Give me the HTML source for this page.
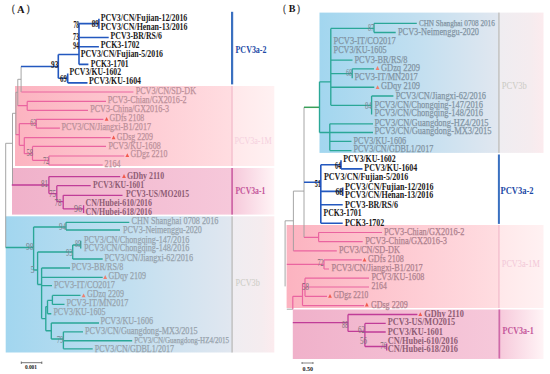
<!DOCTYPE html>
<html><head><meta charset="utf-8"><style>html,body{margin:0;padding:0;background:#fff;}svg{display:block}</style></head>
<body>
<svg width="550" height="374" viewBox="0 0 550 374">
<defs>
<linearGradient id="gPinkL" x1="0" x2="1" y1="0" y2="0"><stop offset="0" stop-color="#fcb3c0"/><stop offset="1" stop-color="#ffdde1"/></linearGradient>
<linearGradient id="gPinkR" x1="0" x2="1" y1="0" y2="0"><stop offset="0" stop-color="#ffe8ea"/><stop offset="1" stop-color="#fff1f2"/></linearGradient>
<linearGradient id="gMagL" x1="0" x2="1" y1="0" y2="0"><stop offset="0" stop-color="#f0b1ca"/><stop offset="1" stop-color="#f6c8da"/></linearGradient>
<linearGradient id="gMagR" x1="0" x2="1" y1="0" y2="0"><stop offset="0" stop-color="#f6c8da"/><stop offset="1" stop-color="#fff4f6"/></linearGradient>
<linearGradient id="gBlueL" x1="0" x2="1" y1="0" y2="0"><stop offset="0" stop-color="#a2d6ef"/><stop offset="0.55" stop-color="#c2dff0"/><stop offset="1" stop-color="#e1e7f0"/></linearGradient>
<linearGradient id="gBlueR" x1="0" x2="1" y1="0" y2="0"><stop offset="0" stop-color="#efedf1"/><stop offset="0.7" stop-color="#f5ecef"/><stop offset="1" stop-color="#fcebee"/></linearGradient>
</defs>
<style>
text{font-family:"Liberation Serif",serif;}
.k{fill:#1c1a1a;font-weight:bold}
.pk{fill:#bb8f99;stroke:#bb8f99;stroke-width:0.25}
.pk2{fill:#ad808d;stroke:#ad808d;stroke-width:0.25}
.mg{fill:#8e5c74;font-weight:bold}
.bl{fill:#96a2ac;stroke:#96a2ac;stroke-width:0.25}
.bl2{fill:#8193a2;stroke:#8193a2;stroke-width:0.25}
.bs{fill:#1e1a1a;font-weight:bold}
.bsp{fill:#7c6a76}
.bsb{fill:#74848f}
.lb{fill:none;stroke:#2358bf;stroke-width:1.6}
.lp{fill:none;stroke:#ea64a0;stroke-width:1.2}
.lm{fill:none;stroke:#c03c98;stroke-width:1.3}
.lt{fill:none;stroke:#2aa797;stroke-width:1.35}
.lg{fill:none;stroke:#9c9c9c;stroke-width:0.9}
.lgr{fill:none;stroke:#3aa05a;stroke-width:1.5}
.tri{fill:#f25a4e}
.trib{fill:#ee8070}
</style>
<rect width="550" height="374" fill="#ffffff"/>
<rect x="15" y="86" width="217" height="80" fill="url(#gPinkL)"/>
<rect x="232" y="86" width="42.3" height="80" fill="url(#gPinkR)"/>
<rect x="12" y="168" width="220" height="46.6" fill="url(#gMagL)"/>
<rect x="232" y="168" width="42.3" height="46.6" fill="url(#gMagR)"/>
<rect x="5.7" y="216.3" width="226.3" height="136.2" fill="url(#gBlueL)"/>
<rect x="232" y="216.3" width="42.3" height="136.2" fill="url(#gBlueR)"/>
<rect x="231" y="11.8" width="2.2" height="72.6" fill="#3a70c0"/>
<rect x="231.2" y="86" width="1.6" height="80" fill="#f6c2d0"/>
<rect x="231.2" y="168" width="1.8" height="46.6" fill="#cf6aa8"/>
<rect x="231.3" y="216.3" width="1.6" height="136.2" fill="#c4c4c4"/>
<text x="12" y="11.9" font-size="11" fill="#333" stroke="#333" stroke-width="0.35" textLength="2.6" lengthAdjust="spacingAndGlyphs">(</text>
<text x="17.1" y="12.5" font-size="11.2" font-weight="bold" fill="#1a1414" textLength="7.6" lengthAdjust="spacingAndGlyphs">A</text>
<text x="26.7" y="11.9" font-size="11" fill="#333" stroke="#333" stroke-width="0.35" textLength="2.8" lengthAdjust="spacingAndGlyphs">)</text>
<path d="M5.7,143.3 V247.5 M5.7,143.3 H12.5 M12.5,113.3 V185 M12.5,113.3 H15.9 M15.9,92.3 V134.7 M15.9,92.3 H17.8 M17.8,79.3 V105.7 M17.8,79.3 H21.1 M21.1,66.5 V92" class="lg"/>
<path d="M21,66.5 H58.3 M58.3,54.5 V78.2 M58.3,54.5 H79 M79,23.6 V64.4 M79,23.6 H98.9 M98.9,18.8 V28.7 M79,37.5 H108.7 M79,46.8 H98.9 M79,64.4 H88.4 M58.3,78.2 H67.7 M67.7,73.4 V82.9 M67.7,82.9 H87.5" class="lb"/>
<text x="100.7" y="21.4" class="k" font-size="11" textLength="86.6" lengthAdjust="spacingAndGlyphs">PCV3/CN/Fujian-12/2016</text>
<text x="100.7" y="29.8" class="k" font-size="11" textLength="86.8" lengthAdjust="spacingAndGlyphs">PCV3/CN/Henan-13/2016</text>
<text x="110.5" y="39.1" class="k" font-size="11" textLength="51.5" lengthAdjust="spacingAndGlyphs">PCV3-BR/RS/6</text>
<text x="100.7" y="48.2" class="k" font-size="11" textLength="38.8" lengthAdjust="spacingAndGlyphs">PCK3-1702</text>
<text x="80.8" y="57.0" class="k" font-size="11" textLength="82.2" lengthAdjust="spacingAndGlyphs">PCV3/CN/Fujian-5/2016</text>
<text x="90.8" y="66.7" class="k" font-size="11" textLength="37.8" lengthAdjust="spacingAndGlyphs">PCK3-1701</text>
<text x="69.5" y="75.1" class="k" font-size="11" textLength="51.5" lengthAdjust="spacingAndGlyphs">PCV3/KU-1602</text>
<text x="89.0" y="84.4" class="k" font-size="11" textLength="52.0" lengthAdjust="spacingAndGlyphs">PCV3/KU-1604</text>
<text x="73.6" y="28.0" class="bs" font-size="10" textLength="5.5" lengthAdjust="spacingAndGlyphs">78</text>
<text x="91.7" y="26.9" class="bs" font-size="10" textLength="7.2" lengthAdjust="spacingAndGlyphs">89</text>
<text x="73.0" y="39.5" class="bs" font-size="10" textLength="6.0" lengthAdjust="spacingAndGlyphs">73</text>
<text x="73.0" y="49.3" class="bs" font-size="10" textLength="6.0" lengthAdjust="spacingAndGlyphs">94</text>
<text x="51.0" y="68.1" class="bs" font-size="10" textLength="7.3" lengthAdjust="spacingAndGlyphs">93</text>
<text x="60.0" y="82.3" class="bs" font-size="10" textLength="6.8" lengthAdjust="spacingAndGlyphs">69</text>
<text x="235.5" y="52.9" font-size="9.8" font-weight="bold" fill="#1d4aa6" textLength="31" lengthAdjust="spacingAndGlyphs" style="font-family:Liberation Serif">PCV3a-2</text>
<path d="M21.3,92 H133.4 M17.8,105.7 H27.2 M27.2,101.4 V110.3 M27.2,101.4 H106 M27.2,110.3 H88 M15.9,134.7 H19.3 M19.3,123.7 V145.3 M19.3,123.7 H36.3 M36.3,119.3 V128.1 M36.3,119.3 H103.4 M36.3,128.1 H59.9 M19.3,145.3 H24.3 M24.3,137.6 V153.7 M24.3,137.6 H110.7 M24.3,153.7 H32.5 M32.5,146.4 V160.3 M32.5,146.4 H106 M32.5,160.3 H48.9 M48.9,156 V165 M48.9,156 H124.3 M48.9,165 H102.7" class="lp"/>
<text x="135.7" y="94.3" class="pk" font-size="11" textLength="60.3" lengthAdjust="spacingAndGlyphs">PCV3/CN/SD-DK</text>
<text x="107.7" y="103.2" class="pk" font-size="11" textLength="79.0" lengthAdjust="spacingAndGlyphs">PCV3-Chian/GX2016-2</text>
<text x="90.2" y="111.9" class="pk" font-size="11" textLength="78.8" lengthAdjust="spacingAndGlyphs">PCV3-China/GX2016-3</text>
<text x="109.5" y="121.4" class="pk" font-size="11" textLength="34.8" lengthAdjust="spacingAndGlyphs">GDfs 2108</text>
<text x="61.5" y="130.2" class="pk" font-size="11" textLength="89.5" lengthAdjust="spacingAndGlyphs">PCV3/CN/Jiangxi-B1/2017</text>
<text x="116.8" y="139.6" class="pk" font-size="11" textLength="36.2" lengthAdjust="spacingAndGlyphs">GDsg 2209</text>
<text x="108.4" y="148.6" class="pk" font-size="11" textLength="52.3" lengthAdjust="spacingAndGlyphs">PCV3/KU-1608</text>
<text x="130.5" y="157.0" class="pk" font-size="11" textLength="37.0" lengthAdjust="spacingAndGlyphs">GDgz 2210</text>
<text x="104.5" y="166.8" class="pk" font-size="11" textLength="16.0" lengthAdjust="spacingAndGlyphs">2164</text>
<path d="M104.7,120.8 L108.5,120.8 L106.6,116.9 Z" class="tri"/>
<path d="M111.7,139.3 L115.5,139.3 L113.6,135.4 Z" class="tri"/>
<path d="M125.4,157.1 L129.2,157.1 L127.3,153.2 Z" class="tri"/>
<text x="30.3" y="125.9" class="bsp" font-size="9.3" textLength="6.0" lengthAdjust="spacingAndGlyphs">63</text>
<text x="26.4" y="155.5" class="bsp" font-size="9.3" textLength="6.6" lengthAdjust="spacingAndGlyphs">58</text>
<text x="42.9" y="163.7" class="bsp" font-size="9.3" textLength="6.0" lengthAdjust="spacingAndGlyphs">72</text>
<text x="234.5" y="143.6" font-size="10" fill="#f5d0de" textLength="37.3" lengthAdjust="spacingAndGlyphs" style="font-family:Liberation Serif">PCV3a-1M</text>
<path d="M11.8,185 H48.9 M48.9,176.6 V193.6 M48.9,176.6 H120.2 M48.9,193.6 H56.8 M56.8,185.7 V201.6 M56.8,185.7 H90.7 M56.8,201.6 H63.2 M63.2,195.3 V208.9 M63.2,195.3 H122.5 M63.2,208.9 H83.6 M83.6,205.3 V213" class="lm"/>
<text x="127.0" y="178.8" class="mg" font-size="11" textLength="37.2" lengthAdjust="spacingAndGlyphs">GDhy 2110</text>
<text x="93.0" y="187.8" class="mg" font-size="11" textLength="51.0" lengthAdjust="spacingAndGlyphs">PCV3/KU-1601</text>
<text x="126.0" y="196.8" class="mg" font-size="11" textLength="63.0" lengthAdjust="spacingAndGlyphs">PCV3-US/MO2015</text>
<text x="85.5" y="205.6" class="mg" font-size="11" textLength="66.5" lengthAdjust="spacingAndGlyphs">CN/Hubei-610/2016</text>
<text x="85.5" y="214.8" class="mg" font-size="11" textLength="66.5" lengthAdjust="spacingAndGlyphs">CN/Hubei-618/2016</text>
<path d="M122.1,178.0 L125.9,178.0 L124.0,174.1 Z" class="tri"/>
<text x="41.0" y="187.4" class="bsp" font-size="9.3" textLength="7.0" lengthAdjust="spacingAndGlyphs">81</text>
<text x="49.0" y="196.5" class="bsp" font-size="9.3" textLength="7.0" lengthAdjust="spacingAndGlyphs">75</text>
<text x="54.5" y="205.9" class="bsp" font-size="9.3" textLength="6.9" lengthAdjust="spacingAndGlyphs">78</text>
<text x="74.0" y="211.8" class="bsp" font-size="9.3" textLength="8.0" lengthAdjust="spacingAndGlyphs">96</text>
<text x="235.4" y="194.1" font-size="9.8" font-weight="bold" fill="#c4569a" textLength="30" lengthAdjust="spacingAndGlyphs" style="font-family:Liberation Serif">PCV3a-1</text>
<path d="M5.7,247.5 H33.6 M33.6,227 V270 M33.6,227 H66 M66,222.3 V230 M66,222.3 H129.3 M66,230 H120 M33.6,270 H37.6 M37.6,252 V284.5 M37.6,252 H72.7 M72.7,245 V259 M72.7,245 H80.7 M80.7,240.7 V248.6 M72.7,259 H102.7 M37.6,284.5 H41.6 M41.6,268 V318.6 M41.6,268 H70 M41.6,277.4 H102.7 M41.6,285.6 H52 M41.6,318.6 H45.8 M45.8,306.6 V330.7 M45.8,306.6 H47.5 M47.5,300.4 V313.7 M47.5,300.4 H52.4 M52.4,295.4 V304.4 M52.4,295.4 H80.5 M52.4,304.4 H64.5 M47.5,313.7 H51.3 M45.8,330.7 H51.3 M51.3,323 V339 M51.3,323 H99 M51.3,339 H63.4 M63.4,331.8 V348.8 M63.4,331.8 H83 M63.4,340.7 H132.2 M63.4,348.8 H92.7" class="lt"/>
<text x="131.6" y="224.1" class="bl" font-size="11" textLength="86.8" lengthAdjust="spacingAndGlyphs">CHN Shanghai 0708 2016</text>
<text x="123.0" y="233.2" class="bl" font-size="11" textLength="78.8" lengthAdjust="spacingAndGlyphs">PCV3-Neimenggu-2020</text>
<text x="84.0" y="242.9" class="bl" font-size="11" textLength="105.4" lengthAdjust="spacingAndGlyphs">PCV3/CN/Chongqing-147/2016</text>
<text x="84.0" y="251.3" class="bl" font-size="11" textLength="105.4" lengthAdjust="spacingAndGlyphs">PCV3/CN/Chongqing-148/2016</text>
<text x="104.5" y="261.4" class="bl" font-size="11" textLength="88.5" lengthAdjust="spacingAndGlyphs">PCV3/CN/Jiangxi-62/2016</text>
<text x="71.6" y="269.8" class="bl" font-size="11" textLength="51.6" lengthAdjust="spacingAndGlyphs">PCV3-BR/RS/8</text>
<text x="108.6" y="279.4" class="bl" font-size="11" textLength="37.4" lengthAdjust="spacingAndGlyphs">GDqy 2109</text>
<text x="54.0" y="288.0" class="bl" font-size="11" textLength="60.8" lengthAdjust="spacingAndGlyphs">PCV3-IT/CO2017</text>
<text x="87.0" y="297.4" class="bl" font-size="11" textLength="36.9" lengthAdjust="spacingAndGlyphs">GDzq 2209</text>
<text x="66.4" y="306.3" class="bl" font-size="11" textLength="62.0" lengthAdjust="spacingAndGlyphs">PCV3-IT/MN2017</text>
<text x="53.4" y="314.8" class="bl" font-size="11" textLength="52.0" lengthAdjust="spacingAndGlyphs">PCV3/KU-1605</text>
<text x="100.4" y="324.3" class="bl" font-size="11" textLength="52.6" lengthAdjust="spacingAndGlyphs">PCV3/KU-1606</text>
<text x="85.0" y="333.9" class="bl" font-size="11" textLength="112.6" lengthAdjust="spacingAndGlyphs">PCV3/CN/Guangdong-MX3/2015</text>
<text x="134.2" y="343.0" class="bl" font-size="9" textLength="94.8" lengthAdjust="spacingAndGlyphs">PCV3/CN/Guangdong-HZ4/2015</text>
<text x="94.8" y="351.7" class="bl" font-size="11" textLength="79.2" lengthAdjust="spacingAndGlyphs">PCV3/CN/GDBL1/2017</text>
<path d="M103.3,279.0 L107.1,279.0 L105.2,275.1 Z" class="trib"/>
<path d="M81.7,297.3 L85.5,297.3 L83.6,293.4 Z" class="trib"/>
<text x="59.0" y="230.0" class="bsb" font-size="9.8" textLength="7.0" lengthAdjust="spacingAndGlyphs">94</text>
<text x="26.0" y="249.5" class="bsb" font-size="9.8" textLength="7.6" lengthAdjust="spacingAndGlyphs">98</text>
<text x="66.0" y="256.0" class="bsb" font-size="9.8" textLength="6.5" lengthAdjust="spacingAndGlyphs">93</text>
<text x="75.0" y="247.0" class="bsb" font-size="9.8" textLength="6.0" lengthAdjust="spacingAndGlyphs">89</text>
<text x="30.5" y="272.5" class="bsb" font-size="9.8" textLength="4.0" lengthAdjust="spacingAndGlyphs">5</text>
<text x="56.8" y="342.8" class="bsb" font-size="9.8" textLength="6.6" lengthAdjust="spacingAndGlyphs">79</text>
<text x="235.6" y="285.7" font-size="10" fill="#cbcbc4" textLength="24.2" lengthAdjust="spacingAndGlyphs" style="font-family:Liberation Serif">PCV3b</text>
<path d="M21.3,362.7 H41.8 M21.3,361.5 V364 M41.8,361.5 V364" class="lg" style="stroke:#505050;stroke-width:0.8"/>
<text x="24.9" y="369.3" class="k" font-size="5.5" textLength="12.1" lengthAdjust="spacingAndGlyphs">0.001</text>
<rect x="319.5" y="12.6" width="179" height="140.3" fill="url(#gBlueL)"/>
<rect x="498.5" y="12.6" width="45" height="140.3" fill="url(#gBlueR)"/>
<rect x="286.6" y="225" width="212" height="83" fill="url(#gPinkL)"/>
<rect x="498.5" y="225" width="45" height="83" fill="url(#gPinkR)"/>
<rect x="292.8" y="309.5" width="205.7" height="49.5" fill="url(#gMagL)"/>
<rect x="498.5" y="309.5" width="45" height="49.5" fill="url(#gMagR)"/>
<rect x="498.1" y="12.6" width="1.6" height="140.3" fill="#c4c4c4"/>
<rect x="497.9" y="154.5" width="2" height="69.4" fill="#3a70c0"/>
<rect x="498.1" y="225" width="1.6" height="83" fill="#f6c2d0"/>
<rect x="498.4" y="309.5" width="1.8" height="49" fill="#cf6aa8"/>
<text x="283.3" y="11.7" font-size="11" fill="#333" stroke="#333" stroke-width="0.35" textLength="2.4" lengthAdjust="spacingAndGlyphs">(</text>
<text x="288.7" y="12.2" font-size="11" font-weight="bold" fill="#1a1414" textLength="6.7" lengthAdjust="spacingAndGlyphs">B</text>
<text x="297.3" y="11.7" font-size="11" fill="#333" stroke="#333" stroke-width="0.35" textLength="2.6" lengthAdjust="spacingAndGlyphs">)</text>
<path d="M304,107.3 V237.3 M293.4,191.1 H304 M293.4,191.1 V250.9 M285.1,220.8 H293.4 M285.1,220.8 V286.4 M286.8,309.2 H292.8" class="lg"/>
<path d="M304,107.3 H319.5" class="lgr"/>
<path d="M319.5,81.8 V132.5 M319.5,81.8 H330.8 M330.8,28.4 V105.3 M330.8,28.4 H374 M374,23.4 V32.5 M374,23.4 H416.8 M374,32.5 H395.7 M330.8,60.1 H352.5 M330.8,73.6 H352.2 M352.2,68.8 V78.3 M352.2,68.8 H374 M330.8,87.2 H374.3 M330.8,105.3 H371.6 M371.6,96 V114.6 M371.6,96 H393.4 M319.5,132.5 H373 M329.8,123.8 V150.6 M329.8,123.8 H373 M329.8,141.3 H351.5 M329.8,150.6 H351.5" class="lt"/>
<text x="418.9" y="26.3" class="bl2" font-size="8.5" textLength="75.9" lengthAdjust="spacingAndGlyphs">CHN Shanghai 0708 2016</text>
<text x="398.0" y="34.8" class="bl2" font-size="11" textLength="81.0" lengthAdjust="spacingAndGlyphs">PCV3-Neimenggu-2020</text>
<text x="333.6" y="44.4" class="bl2" font-size="11" textLength="62.1" lengthAdjust="spacingAndGlyphs">PCV3-IT/CO2017</text>
<text x="333.6" y="52.8" class="bl2" font-size="11" textLength="53.0" lengthAdjust="spacingAndGlyphs">PCV3/KU-1605</text>
<text x="354.5" y="62.5" class="bl2" font-size="11" textLength="53.0" lengthAdjust="spacingAndGlyphs">PCV3-BR/RS/8</text>
<text x="381.0" y="70.9" class="bl2" font-size="11" textLength="39.0" lengthAdjust="spacingAndGlyphs">GDzq 2209</text>
<text x="354.5" y="80.0" class="bl2" font-size="11" textLength="63.2" lengthAdjust="spacingAndGlyphs">PCV3-IT/MN2017</text>
<text x="381.0" y="89.1" class="bl2" font-size="11" textLength="39.0" lengthAdjust="spacingAndGlyphs">GDqy 2109</text>
<text x="395.7" y="98.7" class="bl2" font-size="11" textLength="90.3" lengthAdjust="spacingAndGlyphs">PCV3/CN/Jiangxi-62/2016</text>
<text x="374.5" y="107.8" class="bl2" font-size="11" textLength="108.5" lengthAdjust="spacingAndGlyphs">PCV3/CN/Chongqing-147/2016</text>
<text x="374.5" y="116.4" class="bl2" font-size="11" textLength="108.5" lengthAdjust="spacingAndGlyphs">PCV3/CN/Chongqing-148/2016</text>
<text x="374.5" y="125.5" class="bl2" font-size="11" textLength="114.1" lengthAdjust="spacingAndGlyphs">PCV3/CN/Guangdong-HZ4/2015</text>
<text x="374.5" y="133.7" class="bl2" font-size="11" textLength="116.9" lengthAdjust="spacingAndGlyphs">PCV3/CN/Guangdong-MX3/2015</text>
<text x="353.5" y="144.1" class="bl2" font-size="11" textLength="52.5" lengthAdjust="spacingAndGlyphs">PCV3/KU-1606</text>
<text x="353.5" y="152.3" class="bl2" font-size="11" textLength="79.7" lengthAdjust="spacingAndGlyphs">PCV3/CN/GDBL1/2017</text>
<path d="M375.6,70.0 L379.4,70.0 L377.5,66.1 Z" class="trib"/>
<path d="M375.7,89.1 L379.5,89.1 L377.6,85.2 Z" class="trib"/>
<text x="368.0" y="30.5" class="bsb" font-size="9.8" textLength="6.0" lengthAdjust="spacingAndGlyphs">87</text>
<text x="346.0" y="75.5" class="bsb" font-size="9.8" textLength="6.0" lengthAdjust="spacingAndGlyphs">68</text>
<text x="365.0" y="109.3" class="bsb" font-size="9.8" textLength="6.6" lengthAdjust="spacingAndGlyphs">84</text>
<text x="501.8" y="88.9" font-size="10" fill="#cbcbc4" textLength="25" lengthAdjust="spacingAndGlyphs" style="font-family:Liberation Serif">PCV3b</text>
<path d="M304,182.3 H320.8 M320.8,164.8 V223.2 M320.8,164.8 H341 M341,160.2 V168.9 M341,168.9 H362.5 M320.8,191.4 H342.7 M342.7,187.5 V196.1 M320.8,204.7 H342.7 M320.8,223.2 H342.7" class="lb"/>
<text x="343.2" y="162.3" class="k" font-size="11" textLength="52.5" lengthAdjust="spacingAndGlyphs">PCV3/KU-1602</text>
<text x="364.3" y="171.4" class="k" font-size="11" textLength="53.0" lengthAdjust="spacingAndGlyphs">PCV3/KU-1604</text>
<text x="323.9" y="180.3" class="k" font-size="11" textLength="84.3" lengthAdjust="spacingAndGlyphs">PCV3/CN/Fujian-5/2016</text>
<text x="345.0" y="189.6" class="k" font-size="11" textLength="88.6" lengthAdjust="spacingAndGlyphs">PCV3/CN/Fujian-12/2016</text>
<text x="345.0" y="198.4" class="k" font-size="11" textLength="88.2" lengthAdjust="spacingAndGlyphs">PCV3/CN/Henan-13/2016</text>
<text x="345.0" y="207.8" class="k" font-size="11" textLength="53.0" lengthAdjust="spacingAndGlyphs">PCV3-BR/RS/6</text>
<text x="323.5" y="216.4" class="k" font-size="11" textLength="38.0" lengthAdjust="spacingAndGlyphs">PCK3-1701</text>
<text x="345.0" y="225.9" class="k" font-size="11" textLength="39.3" lengthAdjust="spacingAndGlyphs">PCK3-1702</text>
<text x="314.7" y="186.7" class="bs" font-size="10" textLength="6.1" lengthAdjust="spacingAndGlyphs">51</text>
<text x="335.0" y="169.1" class="bs" font-size="10" textLength="6.0" lengthAdjust="spacingAndGlyphs">64</text>
<text x="335.4" y="194.6" class="bs" font-size="10" textLength="7.9" lengthAdjust="spacingAndGlyphs">68</text>
<text x="500.5" y="194.2" font-size="9.8" font-weight="bold" fill="#1d4aa6" textLength="33.1" lengthAdjust="spacingAndGlyphs" style="font-family:Liberation Serif">PCV3a-2</text>
<path d="M293.4,250.9 H336.8 M304,237.3 H318.6 M318.6,232.5 V241.6 M318.6,232.5 H382 M318.6,241.6 H362.7 M286.8,264.4 H324 M324,259.9 V269 M324,259.9 H361.8 M324,269 H329 M292.8,296.3 V309.2 M292.8,296.3 H302.5 M302.5,283.7 V305.6 M302.5,283.7 H305 M305,278.2 V296.3 M305,278.2 H369 M305,287 H369 M305,296.3 H327 M302.5,305.6 H364" class="lp"/>
<text x="383.9" y="234.6" class="pk2" font-size="11" textLength="80.6" lengthAdjust="spacingAndGlyphs">PCV3-Chian/GX2016-2</text>
<text x="365.2" y="244.4" class="pk2" font-size="11" textLength="81.8" lengthAdjust="spacingAndGlyphs">PCV3-China/GX2016-3</text>
<text x="338.9" y="252.8" class="pk2" font-size="11" textLength="60.9" lengthAdjust="spacingAndGlyphs">PCV3/CN/SD-DK</text>
<text x="368.0" y="262.3" class="pk2" font-size="11" textLength="35.9" lengthAdjust="spacingAndGlyphs">GDfs 2108</text>
<text x="331.6" y="270.9" class="pk2" font-size="11" textLength="91.1" lengthAdjust="spacingAndGlyphs">PCV3/CN/Jiangxi-B1/2017</text>
<text x="371.4" y="280.0" class="pk2" font-size="11" textLength="52.9" lengthAdjust="spacingAndGlyphs">PCV3/KU-1608</text>
<text x="371.4" y="289.4" class="pk2" font-size="11" textLength="15.4" lengthAdjust="spacingAndGlyphs">2164</text>
<text x="333.4" y="298.2" class="pk2" font-size="11" textLength="34.8" lengthAdjust="spacingAndGlyphs">GDgz 2210</text>
<text x="370.9" y="307.7" class="pk2" font-size="11" textLength="36.8" lengthAdjust="spacingAndGlyphs">GDsg 2209</text>
<path d="M362.6,261.6 L366.4,261.6 L364.5,257.7 Z" class="tri"/>
<path d="M328.1,297.8 L331.9,297.8 L330.0,293.9 Z" class="tri"/>
<path d="M364.9,306.4 L368.7,306.4 L366.8,302.5 Z" class="tri"/>
<text x="317.5" y="266.4" class="bsp" font-size="9.3" textLength="6.2" lengthAdjust="spacingAndGlyphs">72</text>
<text x="302.0" y="289.8" class="bsp" font-size="9.3" textLength="7.0" lengthAdjust="spacingAndGlyphs">58</text>
<text x="501.8" y="266.8" font-size="10" fill="#f2c8d8" textLength="38" lengthAdjust="spacingAndGlyphs" style="font-family:Liberation Serif">PCV3a-1M</text>
<path d="M292.8,322.7 H348 M348,314.5 V331.4 M348,314.5 H417.4 M348,331.4 H364.9 M364.9,323.4 V346.5 M364.9,323.4 H385.7 M364.9,332 H385.7 M364.9,346.5 H386.7 M386.7,343.6 V350.5" class="lm"/>
<text x="424.3" y="317.4" class="mg" font-size="11" textLength="39.5" lengthAdjust="spacingAndGlyphs">GDhy 2110</text>
<text x="387.7" y="325.3" class="mg" font-size="11" textLength="67.4" lengthAdjust="spacingAndGlyphs">PCV3-US/MO2015</text>
<text x="387.7" y="334.6" class="mg" font-size="11" textLength="55.3" lengthAdjust="spacingAndGlyphs">PCV3/KU-1601</text>
<text x="387.7" y="343.5" class="mg" font-size="11" textLength="70.3" lengthAdjust="spacingAndGlyphs">CN/Hubei-610/2016</text>
<text x="387.7" y="352.4" class="mg" font-size="11" textLength="70.3" lengthAdjust="spacingAndGlyphs">CN/Hubei-618/2016</text>
<path d="M418.4,316.1 L422.2,316.1 L420.3,312.2 Z" class="tri"/>
<text x="342.0" y="328.0" class="bsp" font-size="9.3" textLength="6.0" lengthAdjust="spacingAndGlyphs">88</text>
<text x="358.0" y="333.1" class="bsp" font-size="9.3" textLength="7.0" lengthAdjust="spacingAndGlyphs">62</text>
<text x="360.0" y="344.0" class="bsp" font-size="9.3" textLength="7.0" lengthAdjust="spacingAndGlyphs">56</text>
<text x="380.3" y="349.4" class="bsp" font-size="9.3" textLength="6.4" lengthAdjust="spacingAndGlyphs">76</text>
<text x="502.5" y="334.2" font-size="9.8" font-weight="bold" fill="#c4569a" textLength="31.2" lengthAdjust="spacingAndGlyphs" style="font-family:Liberation Serif">PCV3a-1</text>
<path d="M302,363 H313 M302,362 V364 M313,362 V364" class="lg" style="stroke:#505050;stroke-width:0.7"/>
<text x="302.5" y="370.5" class="k" font-size="5.5" textLength="10.5" lengthAdjust="spacingAndGlyphs">0.50</text>
</svg>
</body></html>
